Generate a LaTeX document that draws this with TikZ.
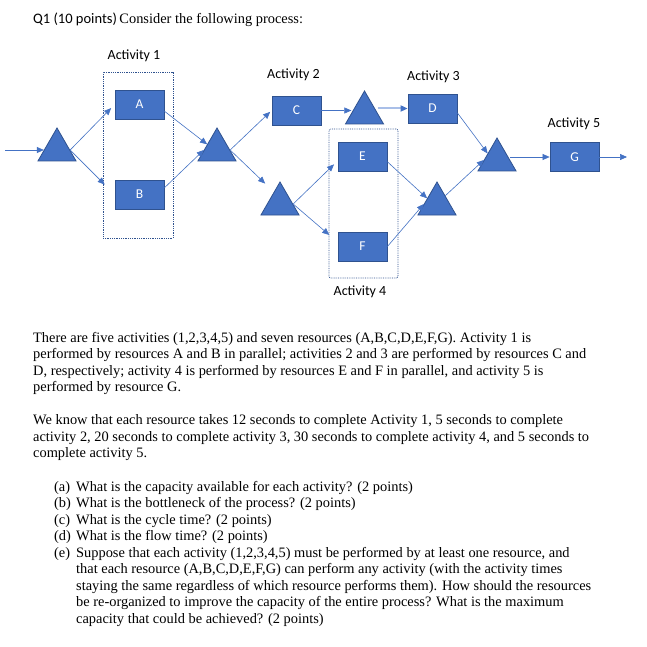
\documentclass[tikz,border=0pt]{standalone}
\usepackage{fontspec}
\usepackage{tikz}
\usetikzlibrary{shapes.geometric,arrows.meta}
\setmainfont{Liberation Serif}
\newfontfamily\calibri{Carlito}
\definecolor{boxblue}{HTML}{4472C4}
\definecolor{boxedge}{HTML}{2F528F}
\definecolor{flowblue}{HTML}{4472C4}
\definecolor{paleblue}{HTML}{A9BFE8}
\newcommand\resnode[3]{node[res] (#1) at (#2) {#3}}
\newcommand\trinode[2]{node[tri] (#1) at (#2) {}}
\newcommand\txtnode[3]{node[txt] (#1) at (#2) {#3}}
\newcommand\actnode[3]{node[actlabel] (#1) at (#2) {#3}}
\newcommand\qlabel[1]{\makebox[22pt][l]{#1}}

\begin{document}
\begin{tikzpicture}[x=1pt, y=-1pt,
        res/.style={draw=boxedge, fill=boxblue, line width=.8pt, minimum width=49pt, minimum height=29pt, inner sep=0pt, text=white, font=\calibri\fontsize{13.5}{15}\selectfont},
        tri/.style={draw=boxedge, fill=boxblue, line width=.8pt, regular polygon, regular polygon sides=3, minimum size=44pt, inner sep=0pt},
        flow/.style={draw=flowblue, line width=.6pt, -{Triangle[length=7pt, width=6pt, color=flowblue]}},
        frame/.style={draw=boxedge, densely dotted, line width=.8pt, inner sep=0pt},
        actlabel/.style={font=\calibri\fontsize{14}{16}\selectfont, inner sep=0pt},
        txt/.style={anchor=base west, inner sep=0pt, font=\fontsize{14.4}{17}\selectfont}]
    % Фон
    \fill[white] (0,0) rectangle (646,647);

    % Заголовок
    \path (33,24) node[anchor=base west, inner sep=0pt] (title)
        {{\calibri\fontsize{14.5}{17}\selectfont Q1 (10 points)} {\fontsize{14.4}{17}\selectfont Consider the following process:}};

    % Рамки активностей
    \path
        (138,155) node[frame, minimum width=70pt, minimum height=166pt] (act1box) {}
        (363.5,203.5) node[frame, rounded corners=2pt, minimum width=69pt, minimum height=149pt] (act4box) {};

    % Подписи активностей
    \path
        \actnode{lab1}{134,56}{Activity 1}
        \actnode{lab2}{293.5,75}{Activity 2}
        \actnode{lab3}{433.5,77}{Activity 3}
        \actnode{lab4}{360,292}{Activity 4}
        \actnode{lab5}{574,124}{Activity 5};

    % Ресурсы
    \path
        \resnode{A}{139.5,104.5}{A}
        \resnode{B}{139.5,194.5}{B}
        \resnode{C}{296.5,110.5}{C}
        \resnode{D}{432.5,108.5}{D}
        \resnode{E}{362.5,156.5}{E}
        \resnode{F}{362.5,246.5}{F}
        \resnode{G}{574.5,157}{G};

    % Буферы
    \path
        \trinode{t1}{57,150}
        \trinode{t2}{217,150}
        \trinode{t3}{364.5,113}
        \trinode{t4}{280,204}
        \trinode{t5}{437,204}
        \trinode{t6}{497,160};

    % Потоки
    \coordinate (in) at (5,150);
    \coordinate (out) at (627,157);
    \draw[flow] (in) -- (t1.west);
    \draw[flow, shorten >=5pt] (t1.east) -- (A.west);
    \draw[flow, shorten >=14pt] (t1.east) -- (B.west);
    \draw[flow] (A.-15) -- (t2.150);
    \draw[flow] (B.15) -- (t2.west);
    \draw[flow, shorten >=2pt] (t2.east) -- (C.west);
    \draw[flow, shorten >=12pt] (t2.east) -- (t4.117);
    \draw[flow] (C) -- (C -| t3.west);
    \draw[flow, draw=paleblue, line width=2pt] (D -| t3.east) -- (D);
    \draw[flow, shorten >=5pt] (t4.east) -- (E.190);
    \draw[flow, shorten >=11pt] (t4.east) -- (F.170);
    \draw[flow] (E.-12) -- (t5.150);
    \draw[flow] (F.east) -- (t5.west);
    \draw[flow] (D.-10) -- (t6.145);
    \draw[flow] (t5.45) -- (t6.west);
    \draw[flow] (t6.east |- G) -- (G);
    \draw[flow] (G) -- (out);

    % Текст задания
    \path
        \txtnode{p1a}{33,342}{There are five activities (1,2,3,4,5) and seven resources (A,B,C,D,E,F,G). Activity 1 is}
        \txtnode{p1b}{33,358.5}{performed by resources A and B in parallel; activities 2 and 3 are performed by resources C and}
        \txtnode{p1c}{33,375}{D, respectively; activity 4 is performed by resources E and F in parallel, and activity 5 is}
        \txtnode{p1d}{33,391.5}{performed by resource G.}
        \txtnode{p2a}{33,424.5}{We know that each resource takes 12 seconds to complete Activity 1, 5 seconds to complete}
        \txtnode{p2b}{33,441}{activity 2, 20 seconds to complete activity 3, 30 seconds to complete activity 4, and 5 seconds to}
        \txtnode{p2c}{33,457.5}{complete activity 5.};

    % Вопросы
    \path
        \txtnode{qa}{54,491}{\qlabel{(a)}What is the capacity available for each activity? (2 points)}
        \txtnode{qb}{54,507.5}{\qlabel{(b)}What is the bottleneck of the process? (2 points)}
        \txtnode{qc}{54,524}{\qlabel{(c)}What is the cycle time? (2 points)}
        \txtnode{qd}{54,540.5}{\qlabel{(d)}What is the flow time? (2 points)}
        \txtnode{qe}{54,557}{\qlabel{(e)}Suppose that each activity (1,2,3,4,5) must be performed by at least one resource, and}
        \txtnode{qe2}{76,573.5}{that each resource (A,B,C,D,E,F,G) can perform any activity (with the activity times}
        \txtnode{qe3}{76,590}{staying the same regardless of which resource performs them). How should the resources}
        \txtnode{qe4}{76,606.5}{be re-organized to improve the capacity of the entire process? What is the maximum}
        \txtnode{qe5}{76,623}{capacity that could be achieved? (2 points)};
\end{tikzpicture}
\end{document}
